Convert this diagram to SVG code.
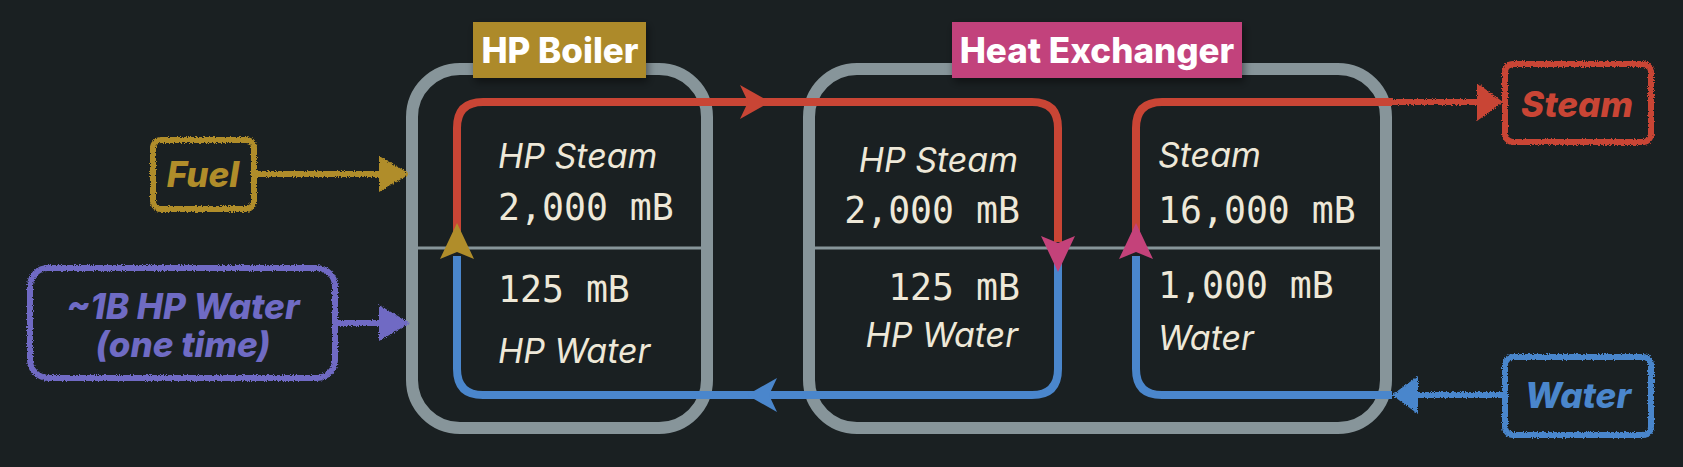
<svg xmlns="http://www.w3.org/2000/svg" width="1683" height="467" viewBox="0 0 1683 467">
<defs>
<filter id="chalk" x="-10%" y="-10%" width="120%" height="120%">
<feTurbulence type="fractalNoise" baseFrequency="0.9" numOctaves="2" seed="3" result="n"/>
<feDisplacementMap in="SourceGraphic" in2="n" scale="4" xChannelSelector="R" yChannelSelector="G"/>
</filter>
<filter id="shadow" x="-10%" y="-20%" width="130%" height="160%">
<feDropShadow dx="2" dy="4" stdDeviation="4" flood-color="#000" flood-opacity="0.45"/>
</filter>
<style>
.box{fill:none;stroke:#87959a;stroke-width:12}
.div{stroke:#87959a;stroke-width:3}
.red{fill:none;stroke:#c94535;stroke-width:8}
.blue{fill:none;stroke:#4a86cc;stroke-width:8}
.mono{font-family:"DejaVu Sans Mono",monospace;font-size:36.5px;fill:#eee8d8}
.it{font-family:Inter,"Noto Sans",sans-serif;font-style:italic;font-size:34px;fill:#eee8d8}
.lbl{font-family:Inter,"Noto Sans",sans-serif;font-weight:800;font-size:35px;fill:#ffffff;text-anchor:middle}
.src{font-family:Inter,"Noto Sans",sans-serif;font-weight:800;font-style:italic;font-size:35px;text-anchor:middle}
.ck{fill:none;stroke-width:6;filter:url(#chalk)}
</style>
</defs>
<rect width="1683" height="467" fill="#1a2022"/>

<g id="boiler">
<rect class="box" x="412" y="69" width="295" height="359" rx="48"/>
<line class="div" x1="418" y1="248" x2="701" y2="248"/>
<g filter="url(#shadow)"><rect x="473" y="22" width="173" height="56" fill="#ad8a2a"/></g>
<text class="lbl" x="560" y="63">HP Boiler</text>
<text class="it" x="498" y="168">HP Steam</text>
<text class="mono" x="498" y="220">2,000 mB</text>
<text class="mono" x="498" y="302">125 mB</text>
<text class="it" x="498" y="363">HP Water</text>
</g>

<g id="heat-exchanger">
<rect class="box" x="809" y="69" width="577" height="359" rx="48"/>
<line class="div" x1="815" y1="248" x2="1380" y2="248"/>
<line x1="1098" y1="80" x2="1098" y2="420" stroke="#87959a" stroke-width="9" filter="url(#chalk)"/>
<g filter="url(#shadow)"><rect x="952" y="22" width="290" height="56" fill="#c2437b"/></g>
<text class="lbl" x="1097" y="63">Heat Exchanger</text>
<text class="it" x="1018" y="172" text-anchor="end">HP Steam</text>
<text class="mono" x="1020" y="223" text-anchor="end">2,000 mB</text>
<text class="mono" x="1020" y="300" text-anchor="end">125 mB</text>
<text class="it" x="1018" y="347" text-anchor="end">HP Water</text>
<text class="it" x="1158" y="167">Steam</text>
<text class="mono" x="1158" y="223">16,000 mB</text>
<text class="mono" x="1158" y="298">1,000 mB</text>
<text class="it" x="1158" y="350">Water</text>
</g>

<g id="fuel">
<rect class="ck" x="153" y="140" width="101" height="69" rx="8" stroke="#b08d2a"/>
<text class="src" x="203" y="187" fill="#b08d2a">Fuel</text>
</g>

<g id="hp-water">
<rect class="ck" x="30" y="268" width="305" height="110" rx="18" stroke="#6f6bc4"/>
<text class="src" x="183" y="319" fill="#6f6bc4">~1B HP Water</text>
<text class="src" x="183" y="357" fill="#6f6bc4" font-size="22">(one time)</text>
</g>

<g id="steam">
<rect class="ck" x="1505" y="64" width="146" height="78" rx="8" stroke="#c94535"/>
<text class="src" x="1577" y="117" fill="#c94535">Steam</text>
</g>

<g id="water">
<rect class="ck" x="1505" y="357" width="146" height="78" rx="8" stroke="#4a86cc"/>
<text class="src" x="1578" y="408" fill="#4a86cc">Water</text>
</g>

<g id="connectors">
<path class="red" d="M457 240 L457 128 Q457 102 483 102 L1032 102 Q1058 102 1058 128 L1058 242"/>
<path class="blue" d="M1058 258 L1058 369 Q1058 395 1032 395 L483 395 Q457 395 457 369 L457 256"/>
<path class="red" d="M1136 242 L1136 128 Q1136 102 1162 102 L1392 102"/>
<path class="blue" d="M1136 256 L1136 369 Q1136 395 1162 395 L1392 395"/>
<path d="M770 102 L740 85 L748 102 L740 119 Z" fill="#c94535"/>
<path d="M747 395 L777 378 L769 395 L777 412 Z" fill="#4a86cc"/>
<path d="M457 223 L474 259 L457 252 L440 259 Z" fill="#b08d2a"/>
<path d="M1058 272 L1041 236 L1058 243 L1075 236 Z" fill="#c4427a"/>
<path d="M1136 223 L1153 259 L1136 252 L1119 259 Z" fill="#c4427a"/>
<g filter="url(#chalk)">
<line x1="256" y1="174" x2="382" y2="174" stroke="#b08d2a" stroke-width="6"/>
<path d="M410 174 L379 156 L379 192 Z" fill="#b08d2a"/>
<line x1="337" y1="323" x2="382" y2="323" stroke="#6f6bc4" stroke-width="6"/>
<path d="M410 323 L379 305 L379 341 Z" fill="#6f6bc4"/>
<line x1="1390" y1="102" x2="1480" y2="102" stroke="#c94535" stroke-width="6"/>
<path d="M1503 102 L1477 83 L1477 121 Z" fill="#c94535"/>
<line x1="1415" y1="395" x2="1503" y2="395" stroke="#4a86cc" stroke-width="6"/>
<path d="M1392 395 L1418 376 L1418 414 Z" fill="#4a86cc"/>
</g>
</g>
</svg>
